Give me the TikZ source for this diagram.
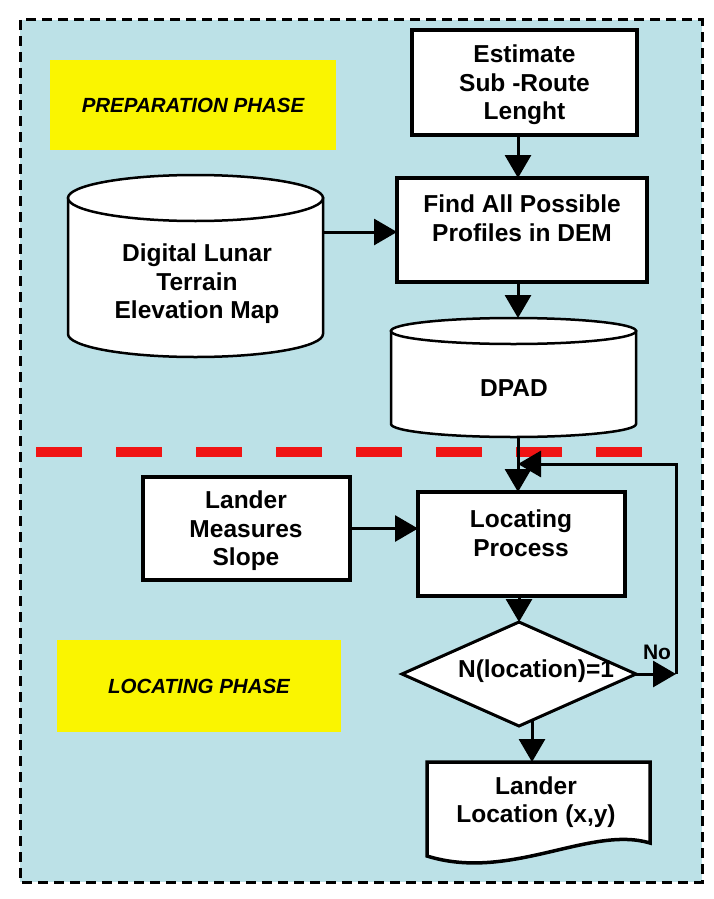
\documentclass[tikz,border=0pt]{standalone}
\usepackage{fontspec}
\setmainfont{Liberation Sans}
\usetikzlibrary{arrows.meta,shapes.geometric}
\definecolor{bgblue}{RGB}{188,225,231}
\definecolor{phyellow}{RGB}{250,245,0}
\definecolor{sepred}{RGB}{240,20,20}
\tikzset{
  box/.style={draw=black, line width=3.5pt, fill=white, rectangle, inner sep=0pt, outer sep=0pt},
  holder/.style={rectangle, inner sep=0pt, outer sep=0pt},
  txt/.style={font=\fontsize{24.5}{28.5}\selectfont\bfseries, align=center, inner sep=0pt},
  phase/.style={fill=phyellow, inner sep=0pt, outer sep=0pt, font=\fontsize{20.5}{24}\selectfont\bfseries\itshape},
  arr/.style={line width=3pt, -{Triangle[length=23pt,width=26pt]}},
  cyl/.style={draw=black, line width=2.5pt, fill=white},
}
\begin{document}
\begin{tikzpicture}[x=1pt,y=-1pt]
\useasboundingbox (0,0) rectangle (713,899);
% outer dashed frame
\draw[fill=bgblue, line width=3pt, dash pattern=on 10pt off 6pt] (20,20) rectangle (702,882);
% phase labels
\node[phase, minimum width=286pt, minimum height=90pt] (prep) at (193,105) {PREPARATION PHASE};
\node[phase, minimum width=284pt, minimum height=92pt] (locph) at (199,686) {LOCATING PHASE};
% separator
\draw[sepred, line width=10pt, dash pattern=on 45.5pt off 34.5pt] (36,452) -- (645,452);
% boxes
\node[box, minimum width=225pt, minimum height=105pt] (est) at (524.5,82.5) {};
\node[box, minimum width=250pt, minimum height=104pt] (find) at (522,230) {};
\node[box, minimum width=207pt, minimum height=103pt] (lander) at (246.5,528.5) {};
\node[box, minimum width=207pt, minimum height=104pt] (loc) at (521.5,544) {};
\node[draw=black, fill=white, line width=3pt, diamond, aspect=2.25, inner sep=0pt, outer sep=0pt,
      minimum width=234pt, minimum height=104pt] (dec) at (519,674) {};
% cylinder: digital map
\node[holder, minimum width=255pt, minimum height=182pt] (dig) at (195.5,266) {};
\path[cyl] (68,198) -- (68,334) arc[start angle=180, end angle=0, x radius=127.5, y radius=23] -- (323,198) -- cycle;
\draw[cyl] (195.5,198) ellipse [x radius=127.5, y radius=23];
% cylinder: DPAD
\node[holder, minimum width=245pt, minimum height=119pt] (dpad) at (513.5,377.5) {};
\path[cyl] (391,331) -- (391,424) arc[start angle=180, end angle=0, x radius=122.5, y radius=13] -- (636,331) -- cycle;
\draw[cyl] (513.5,331) ellipse [x radius=122.5, y radius=13];
% document shape
\node[holder, minimum width=223pt, minimum height=94pt] (doc) at (538.5,809) {};
\draw[line width=3.5pt, fill=white, line join=miter] (427,856) -- (427,762) -- (650,762) -- (650,843)
   .. controls (590,825) and (510,882) .. cycle;
% texts
\node[txt] (estt) at (524.5,85) {Estimate\\Sub -Route\\Lenght};
\node[txt] (findt) at (522,218) {Find All Possible\\Profiles in DEM};
\node[txt] (digt) at (197,284) {Digital Lunar\\Terrain\\Elevation Map};
\node[txt] (dpadt) at (514,388) {DPAD};
\node[txt] (landt) at (246,531) {Lander\\Measures\\Slope};
\node[txt] (loct) at (521,533) {Locating\\Process};
\node[txt] (dect) at (536,671) {N(location)=1};
\node[txt] (doct) at (536,802) {Lander\\Location (x,y)};
\node[font=\fontsize{21}{24}\selectfont\bfseries, inner sep=0pt] (no) at (657,652) {No};
% helper coordinates
\coordinate (ax) at (518,0);
\coordinate (ay) at (0,232);
\coordinate (dstart) at (532,719);
\coordinate (noc) at (676,674);
\coordinate (lend) at (518,464);
% connectors
\draw[arr] (est.south -| ax) -- (find.north -| ax);
\draw[arr] (dig.east |- ay) -- (find.west |- ay);
\draw[arr] (find.south -| ax) -- (dpad.north -| ax);
\draw[arr] (dpad.south -| ax) -- (loc.north -| ax);
\draw[arr] (lander.east) -- (loc.west |- lander.east);
\draw[arr] (loc.south -| dec.north) -- (dec.north);
\draw[arr] (dstart) -- (doc.north -| dstart);
\draw[arr] (dec.east) -- (noc);
\draw[arr] (noc) |- (lend);
\end{tikzpicture}
\end{document}
